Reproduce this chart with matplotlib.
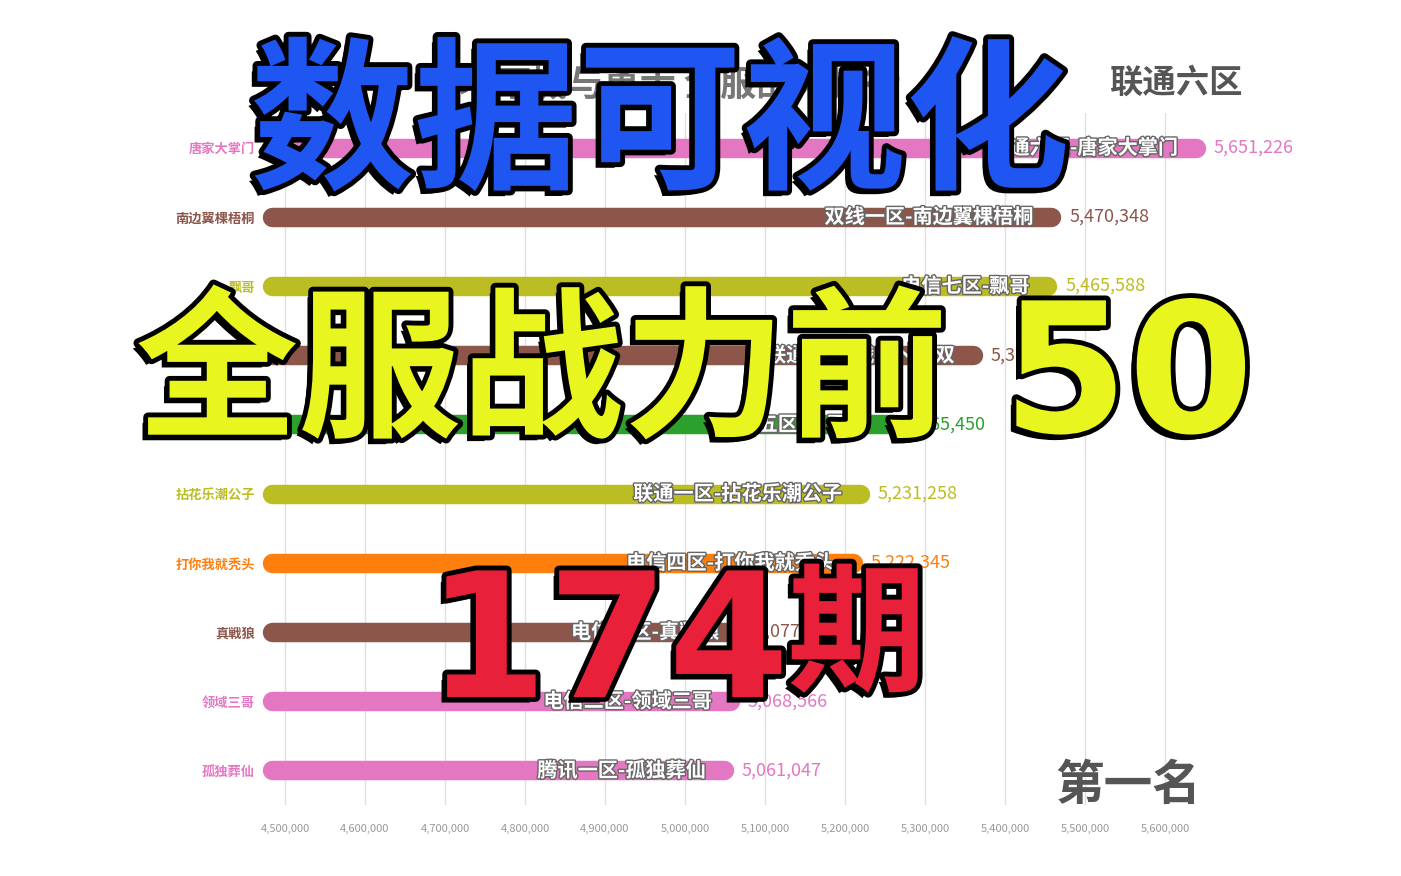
import matplotlib
matplotlib.use("Agg")
import matplotlib.pyplot as plt
import matplotlib.patheffects as pe
from matplotlib.ticker import FuncFormatter

plt.rcParams['font.family'] = ['Noto Sans CJK SC', 'DejaVu Sans']

# data, top to bottom
names = ['唐家大掌门', '南边翼棵梧桐', '飘哥', '战神丶无双', '丶子77', '拈花乐潮公子',
         '打你我就秃头', '真戦狼', '领域三哥', '孤独葬仙']
servers = ['联通六区', '双线一区', '电信七区', '联通三区', '联通五区', '联通一区',
           '电信四区', '电信八区', '电信二区', '腾讯一区']
power = [5651226, 5470348, 5465588, 5372160, 5265450, 5231258,
         5222345, 5077912, 5068566, 5061047]
colors = ['#e377c2', '#8c564b', '#bcbd22', '#8c564b', '#2ca02c', '#bcbd22',
          '#ff7f0e', '#8c564b', '#e377c2', '#e377c2']
xticks = [4500000 + i * 100000 for i in range(12)]

W, H = 1401, 876
fig = plt.figure(figsize=(W / 100, H / 100), dpi=100)
ax = fig.add_axes([262 / W, 71 / H, (1300 - 262) / W, 692 / H])

x0 = 4471250
px = 1250  # data units per pixel
for i, (v, c) in enumerate(zip(power, colors)):
    ax.hlines(i, x0 + 10 * px, v - 10 * px, color=c, lw=14, capstyle='round', zorder=3)
    ax.text(v - 28 * px, i, servers[i] + '-' + names[i], ha='right', va='center',
            fontsize=14.5, fontweight='bold', color='white', zorder=4,
            path_effects=[pe.withStroke(linewidth=2, foreground='#666666')])
    ax.text(v + 8 * px, i, f'{v:,}', ha='left', va='center', fontsize=13,
            color=c, zorder=4)

ax.set_xlim(x0, x0 + 1038 * px)
ax.set_ylim(9.5, -0.5)
ax.set_yticks(range(len(names)))
ax.set_yticklabels(names, fontsize=9.5, fontweight='bold')
for lab, c in zip(ax.get_yticklabels(), colors):
    lab.set_color(c)
ax.set_xticks(xticks)
ax.xaxis.set_major_formatter(FuncFormatter(lambda v, p: f'{int(v):,}'))
ax.tick_params(axis='x', length=0, pad=14, labelsize=8, labelcolor='#999999')
ax.tick_params(axis='y', length=0, pad=5)
ax.grid(axis='x', color='#e0e0e0', lw=1, zorder=0)
for s in ax.spines.values():
    s.set_visible(False)

# title and side labels
fig.text(680 / W, 1 - 85 / H, '地下城与勇士 全服战力排行', ha='center', va='center',
         fontsize=26, fontweight='bold', color='#777777')
fig.text(1243 / W, 1 - 83 / H, '联通六区', ha='right', va='center',
         fontsize=24, fontweight='bold', color='#555555')
fig.text(1128 / W, 1 - 785 / H, '第一名', ha='center', va='center',
         fontsize=35, fontweight='bold', color='#555555')

# big cover texts
fx = [pe.SimplePatchShadow(offset=(-4, -4), shadow_rgbFace='black', alpha=1),
      pe.Stroke(linewidth=7, foreground='black'), pe.Normal()]
fig.text(660 / W, 700 / H, '数据可视化', ha='center', va='baseline', fontsize=118,
         fontweight='heavy', color='#1f55f0', path_effects=fx, zorder=10)
fig.text(542 / W, 452 / H, '全服战力前', ha='center', va='baseline', fontsize=117,
         fontweight='heavy', color='#e8f51e', path_effects=fx, zorder=10)
fig.text(1128 / W, 444 / H, '50', ha='center', va='baseline', fontsize=130,
         fontweight='heavy', family='DejaVu Sans', color='#e8f51e', path_effects=fx, zorder=10)
fig.text(608 / W, 179 / H, '174', ha='center', va='baseline', fontsize=125,
         fontweight='heavy', family='DejaVu Sans', color='#e8203a', path_effects=fx, zorder=10)
fig.text(857 / W, 196 / H, '期', ha='center', va='baseline', fontsize=100,
         fontweight='heavy', color='#e8203a', path_effects=fx, zorder=10)

fig.savefig('out.png', dpi=100)
